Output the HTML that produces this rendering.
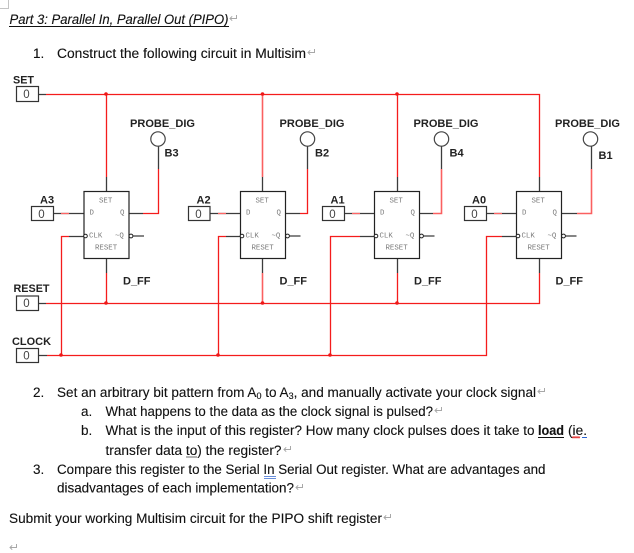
<!DOCTYPE html>
<html><head><meta charset="utf-8">
<style>
html,body{margin:0;padding:0;background:#fff;}
svg{display:block;}
.t{font-family:"Liberation Sans",sans-serif;font-size:13.5px;fill:#111;stroke:#111;stroke-width:.12px;}
.l{font-family:"Liberation Sans",sans-serif;font-size:11px;font-weight:bold;fill:#222;}
.v{font-family:"Liberation Sans",sans-serif;font-size:11.5px;fill:#444;text-anchor:middle;}
.f{font-family:"Liberation Mono",monospace;font-size:7.4px;fill:#7a7a7a;}
.c{filter:blur(.3px);}
</style></head><body>
<svg xmlns="http://www.w3.org/2000/svg" width="634" height="553" viewBox="0 0 634 553">
<defs>
<path id="ret" d="M7.5 0V3.5H1M3.2 1.3L1 3.5L3.2 5.7" fill="none" stroke="#a8a8a8" stroke-width="1"/>
<g id="ff">
<rect x="0" y="0" width="45" height="67" fill="#fff" stroke="#222" stroke-width="1.200"/>
<text class="f" x="15" y="11">SET</text>
<text class="f" x="5.500" y="23">D</text>
<text class="f" x="36" y="23">Q</text>
<text class="f" x="5" y="46">CLK</text>
<text class="f" x="31" y="46">~Q</text>
<text class="f" x="11" y="58">RESET</text>
<circle cx="1.500" cy="44.500" r="1.800" fill="#fff" stroke="#222" stroke-width="1"/>
<circle cx="47" cy="44.500" r="1.900" fill="#fff" stroke="#222" stroke-width="1"/>
<line x1="49" y1="44.500" x2="60" y2="44.500" stroke="#333" stroke-width="1.200"/>
</g>
</defs>

<path d="M8.500 0V8.500H0" fill="none" stroke="#c4c4c4"/>

<g class="c">
<!-- Red wires -->
<g fill="none" stroke="#f41c1c" stroke-width="1.300">
<path d="M46 94.500H539.500V177"/>
<path d="M46 303.500H539.500V273"/>
<path d="M47 355.500H486.500V236.500H502"/>
<path d="M106.500 94.500V177M106.500 303.500V273"/>
<path d="M262.500 94.500V177M262.500 303.500V273" stroke="#fa6060" stroke-width="1.600"/>
<path d="M397.500 94.500V177M397.500 303.500V273"/>
<path d="M61.500 355.500V236.500H69"/>
<path d="M218.500 355.500V236.500H226"/>
<path d="M330.500 355.500V236.500H360"/>
<path d="M158.500 169V213.500H143"/>
<path d="M307.500 169V213.500H300"/>
<path d="M441.500 169V213.500H433" stroke="#fa6060" stroke-width="1.600"/>
<path d="M591.500 169V213.500H577" stroke="#fa6060" stroke-width="1.600"/>
</g>
<g fill="#ee1818">
<circle cx="106" cy="94" r="1.800"/><circle cx="262.500" cy="94" r="1.800"/><circle cx="397" cy="94" r="1.800"/>
<circle cx="106" cy="303" r="1.800"/><circle cx="262.500" cy="303" r="1.800"/><circle cx="397" cy="303" r="1.800"/>
<circle cx="61" cy="355" r="1.800"/><circle cx="218" cy="355" r="1.800"/><circle cx="330" cy="355" r="1.800"/>
</g>

<!-- Dark wires -->
<g fill="none" stroke="#3c3c3c" stroke-width="1.300">
<path d="M39 94.500H46M39 303.500H46M39 355.500H47"/>
<path d="M106.500 177V191M262.500 177V191M397.500 177V191M539.500 177V191"/>
<path d="M106.500 259V273M262.500 259V273M397.500 259V273M539.500 259V273"/>
<path d="M158.500 146V169M307.500 146V169M441.500 146V169M591.500 146V169"/>
<path d="M129 213.500H143M286 213.500H300M420 213.500H433M562 213.500H577"/>
<path d="M54 213.500H84M210 213.500H240M344 213.500H374M486 213.500H516"/>
<path d="M69 236.500H84M226 236.500H240M360 236.500H374M502 236.500H516"/>
</g>
<g stroke="#f66" stroke-width="1.300">
<path d="M61 213.500H69M218 213.500H226M352 213.500H360M494 213.500H502"/>
</g>

<!-- Flip-flops -->
<use href="#ff" x="84" y="191.500"/>
<use href="#ff" x="240.500" y="191.500"/>
<use href="#ff" x="374.500" y="191.500"/>
<use href="#ff" x="516.500" y="191.500"/>

<!-- Value boxes -->
<g fill="#fff" stroke="#333" stroke-width="1.200">
<rect x="16.500" y="86.500" width="22" height="15"/>
<rect x="16.500" y="296" width="22" height="14.500"/>
<rect x="16.500" y="348.500" width="22" height="14"/>
<rect x="31.500" y="206.500" width="22" height="14"/>
<rect x="188.500" y="206.500" width="21.500" height="14"/>
<rect x="322.500" y="206.500" width="22" height="14"/>
<rect x="464.500" y="206.500" width="22" height="14"/>
</g>
<text class="v" x="26.500" y="98">0</text>
<text class="v" x="26.500" y="307">0</text>
<text class="v" x="26.500" y="359.500">0</text>
<text class="v" x="41.500" y="218">0</text>
<text class="v" x="198.500" y="218">0</text>
<text class="v" x="332.500" y="218">0</text>
<text class="v" x="474.500" y="218">0</text>

<!-- Probes -->
<g fill="#fff" stroke="#444" stroke-width="1.200">
<circle cx="158" cy="139" r="7.200"/><circle cx="307.500" cy="139" r="7.200"/>
<circle cx="441.500" cy="139" r="7.200"/><circle cx="590.500" cy="139" r="7.200"/>
</g>

<!-- Labels -->
<text class="l" x="13" y="83.500" textLength="21" lengthAdjust="spacingAndGlyphs">SET</text>
<text class="l" x="13.500" y="292" textLength="36" lengthAdjust="spacingAndGlyphs">RESET</text>
<text class="l" x="12" y="345" textLength="39" lengthAdjust="spacingAndGlyphs">CLOCK</text>
<text class="l" x="40" y="203.500">A3</text>
<text class="l" x="196.500" y="203.500">A2</text>
<text class="l" x="330.500" y="203.500">A1</text>
<text class="l" x="472" y="203.500">A0</text>
<text class="l" x="130" y="127" textLength="65" lengthAdjust="spacingAndGlyphs">PROBE_DIG</text>
<text class="l" x="279.500" y="127" textLength="65" lengthAdjust="spacingAndGlyphs">PROBE_DIG</text>
<text class="l" x="413.500" y="127" textLength="65" lengthAdjust="spacingAndGlyphs">PROBE_DIG</text>
<text class="l" x="555" y="127" textLength="65" lengthAdjust="spacingAndGlyphs">PROBE_DIG</text>
<text class="l" x="164.500" y="156.500">B3</text>
<text class="l" x="315" y="156.500">B2</text>
<text class="l" x="449.500" y="156.500">B4</text>
<text class="l" x="598.500" y="159">B1</text>
<text class="l" x="123" y="284.500">D_FF</text>
<text class="l" x="279.500" y="284.500">D_FF</text>
<text class="l" x="414" y="284.500">D_FF</text>
<text class="l" x="555.500" y="284.500">D_FF</text>
</g>

<!-- Document text -->
<text class="t" x="9.500" y="24" font-style="italic" textLength="219" lengthAdjust="spacingAndGlyphs">Part 3: Parallel In, Parallel Out (PIPO)</text>
<line x1="9" y1="26.500" x2="229" y2="26.500" stroke="#111"/>
<use href="#ret" x="229" y="15"/>
<text class="t" x="33" y="58">1.</text>
<text class="t" x="57" y="58" textLength="249" lengthAdjust="spacingAndGlyphs">Construct the following circuit in Multisim</text>
<use href="#ret" x="307" y="49"/>

<text class="t" x="33" y="397">2.</text>
<text class="t" x="57" y="397" textLength="479" lengthAdjust="spacingAndGlyphs">Set an arbitrary bit pattern from A<tspan font-size="9" dy="2">0</tspan><tspan dy="-2"> to A</tspan><tspan font-size="9" dy="2">3</tspan><tspan dy="-2">, and manually activate your clock signal</tspan></text>
<use href="#ret" x="537" y="388"/>
<text class="t" x="81" y="416">a.</text>
<text class="t" x="105.500" y="416" textLength="327.500" lengthAdjust="spacingAndGlyphs">What happens to the data as the clock signal is pulsed?</text>
<use href="#ret" x="434" y="407"/>
<text class="t" x="81" y="435">b.</text>
<text class="t" x="105.500" y="435" textLength="429" lengthAdjust="spacingAndGlyphs">What is the input of this register? How many clock pulses does it take to</text>
<text class="t" x="538" y="435" font-weight="bold" textLength="26" lengthAdjust="spacingAndGlyphs">load</text>
<line x1="538" y1="437.500" x2="564" y2="437.500" stroke="#111"/>
<text class="t" x="568" y="435" textLength="19" lengthAdjust="spacingAndGlyphs">(ie.</text>
<path d="M572 436.500l1 1.500 1-1.500 1 1.500 1-1.500 1 1.500 1-1.500 1 1.500 1-1.500" fill="none" stroke="#e02020" stroke-width=".8"/>
<line x1="582" y1="437.500" x2="587" y2="437.500" stroke="#2a62d0"/>
<text class="t" x="105.500" y="455" textLength="176" lengthAdjust="spacingAndGlyphs">transfer data to) the register?</text>
<line x1="186" y1="457" x2="197" y2="457" stroke="#444" stroke-width=".8"/>
<use href="#ret" x="283" y="446"/>
<text class="t" x="33" y="474">3.</text>
<text class="t" x="57" y="474" textLength="488.500" lengthAdjust="spacingAndGlyphs">Compare this register to the Serial In Serial Out register. What are advantages and</text>
<path d="M264 476.500H276M264 478.500H276" stroke="#3a6bd0" stroke-width=".8"/>
<text class="t" x="57" y="492.500" textLength="237" lengthAdjust="spacingAndGlyphs">disadvantages of each implementation?</text>
<use href="#ret" x="295" y="484"/>
<text class="t" x="9" y="523" textLength="373" lengthAdjust="spacingAndGlyphs">Submit your working Multisim circuit for the PIPO shift register</text>
<use href="#ret" x="383" y="514"/>
<use href="#ret" x="9" y="544"/>
</svg>
</body></html>
